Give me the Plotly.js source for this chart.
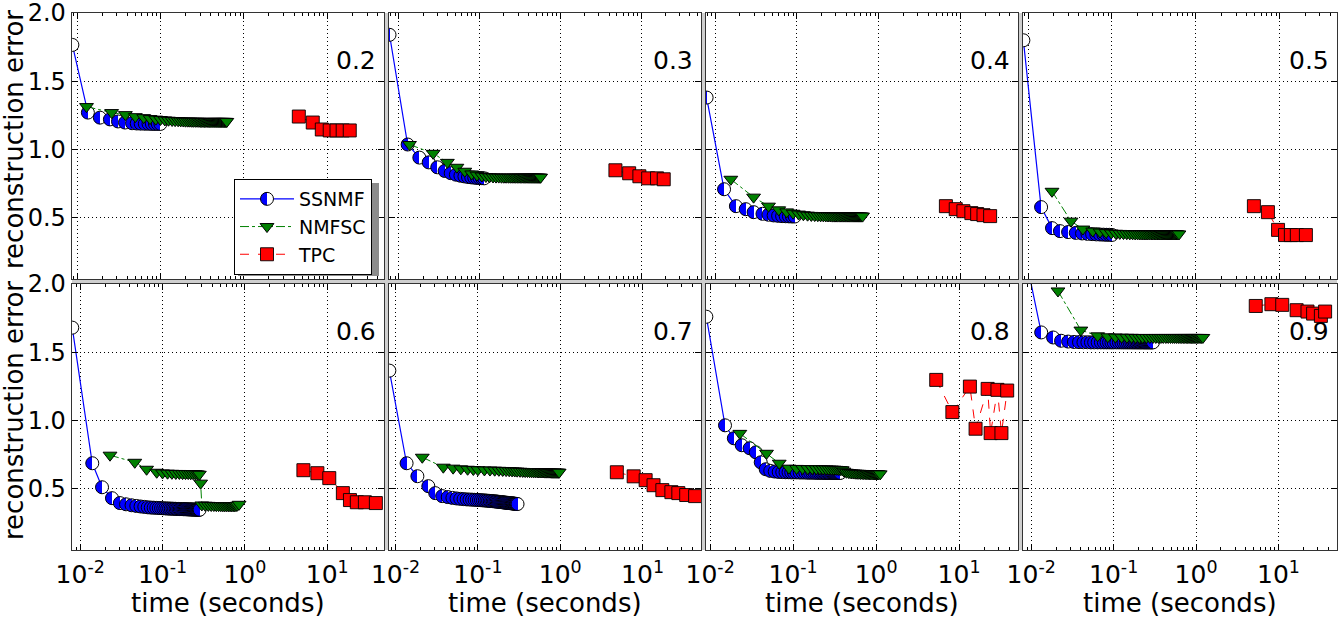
<!DOCTYPE html>
<html>
<head>
<meta charset="utf-8">
<script src="https://cdn.plot.ly/plotly-3.0.1.min.js"></script>
<style>
  html, body { margin: 0; padding: 0; background: #fff; }
  #chart { width: 1341px; height: 618px; }
</style>
</head>
<body>
<div id="chart"></div>
<script>
// --- Data (time in seconds, reconstruction error) ---
const panelLabels = ['0.2', '0.3', '0.4', '0.5', '0.6', '0.7', '0.8', '0.9'];

// 0.2
const ssnmfT02 = [0.0088, 0.0135, 0.0188, 0.0248, 0.031, 0.0376, 0.0457, 0.052, 0.058, 0.065, 0.072, 0.079, 0.086, 0.093, 0.100];
const ssnmfE02 = [1.766, 1.270, 1.233, 1.220, 1.205, 1.197, 1.192, 1.190, 1.189, 1.188, 1.188, 1.187, 1.187, 1.187, 1.187];
const nmfscT02 = [0.013, 0.026, 0.038, 0.050, 0.063, 0.075, 0.088, 0.100, 0.113, 0.125, 0.138, 0.150, 0.163, 0.175, 0.188, 0.200, 0.213, 0.225, 0.238, 0.250,
                  0.263, 0.275, 0.288, 0.300, 0.313, 0.325, 0.338, 0.350, 0.363, 0.375, 0.388, 0.400, 0.413, 0.425, 0.438, 0.450, 0.463, 0.475, 0.488, 0.500,
                  0.513, 0.525, 0.538, 0.550, 0.563, 0.575, 0.588, 0.600, 0.613, 0.625];
const nmfscE02 = [1.314, 1.270, 1.255, 1.240, 1.233, 1.226, 1.222, 1.219, 1.216, 1.214, 1.212, 1.211, 1.210, 1.209, 1.208, 1.207, 1.207, 1.207, 1.206, 1.206,
                  1.206, 1.206, 1.206, 1.205, 1.205, 1.205, 1.205, 1.205, 1.205, 1.205, 1.205, 1.205, 1.205, 1.205, 1.205, 1.205, 1.205, 1.205, 1.205, 1.205,
                  1.205, 1.205, 1.205, 1.205, 1.205, 1.205, 1.205, 1.205, 1.205, 1.205];
const tpcT02 = [4.56, 6.7, 8.6, 10.7, 12.9, 15.3, 18.6];
const tpcE02 = [1.241, 1.197, 1.146, 1.139, 1.139, 1.139, 1.139];

// 0.3
const ssnmfT03 = [0.0077, 0.0129, 0.018, 0.0235, 0.030, 0.037, 0.044, 0.051, 0.058, 0.065, 0.072, 0.079, 0.086, 0.093, 0.100, 0.107, 0.114];
const ssnmfE03 = [1.84, 1.036, 0.940, 0.905, 0.869, 0.842, 0.826, 0.815, 0.807, 0.802, 0.798, 0.795, 0.793, 0.791, 0.790, 0.789, 0.788];
const nmfscT03 = [0.0136, 0.0267, 0.040, 0.0525, 0.0657, 0.080, 0.093, 0.107, 0.120, 0.133, 0.147, 0.160, 0.173, 0.187, 0.200, 0.213, 0.227, 0.240, 0.253, 0.267,
                  0.280, 0.293, 0.307, 0.320, 0.333, 0.347, 0.360, 0.373, 0.387, 0.400, 0.413, 0.427, 0.440, 0.453, 0.467, 0.480, 0.493, 0.507, 0.520, 0.533,
                  0.547, 0.560, 0.570];
const nmfscE03 = [1.036, 0.971, 0.905, 0.869, 0.840, 0.820, 0.811, 0.805, 0.801, 0.799, 0.798, 0.797, 0.797, 0.796, 0.796, 0.796, 0.796, 0.796, 0.796, 0.796,
                  0.796, 0.796, 0.796, 0.796, 0.796, 0.796, 0.796, 0.796, 0.796, 0.796, 0.796, 0.796, 0.796, 0.796, 0.796, 0.796, 0.796, 0.796, 0.796, 0.796,
                  0.796, 0.796, 0.796];
const tpcT03 = [4.8, 7.1, 9.5, 12.2, 15.7, 19.0];
const tpcE03 = [0.847, 0.825, 0.803, 0.788, 0.788, 0.781];

// 0.4
const ssnmfT04 = [0.0079, 0.0129, 0.018, 0.0237, 0.0296, 0.038, 0.045, 0.052, 0.059, 0.066, 0.073, 0.080, 0.087, 0.094];
const ssnmfE04 = [1.380, 0.708, 0.584, 0.562, 0.540, 0.528, 0.521, 0.516, 0.513, 0.511, 0.510, 0.509, 0.508, 0.508];
const nmfscT04 = [0.0156, 0.0296, 0.045, 0.060, 0.075, 0.090, 0.105, 0.120, 0.135, 0.150, 0.165, 0.180, 0.195, 0.210, 0.225, 0.240, 0.255, 0.270, 0.285, 0.300,
                  0.315, 0.330, 0.345, 0.360, 0.375, 0.390, 0.405, 0.420, 0.435, 0.450, 0.465, 0.480, 0.495, 0.510, 0.525, 0.540, 0.555, 0.570, 0.585, 0.600,
                  0.615, 0.634];
const nmfscE04 = [0.781, 0.650, 0.584, 0.557, 0.542, 0.532, 0.526, 0.521, 0.518, 0.516, 0.515, 0.514, 0.513, 0.513, 0.512, 0.512, 0.512, 0.511, 0.511, 0.511,
                  0.511, 0.511, 0.511, 0.511, 0.511, 0.511, 0.511, 0.511, 0.511, 0.511, 0.511, 0.511, 0.511, 0.511, 0.511, 0.511, 0.511, 0.511, 0.511, 0.511,
                  0.511, 0.511];
const tpcT04 = [6.6, 8.7, 10.8, 13.5, 15.9, 19.0, 22.9];
const tpcE04 = [0.584, 0.562, 0.547, 0.533, 0.526, 0.518, 0.511];

// 0.5
const ssnmfT05 = [0.0088, 0.0143, 0.0193, 0.024, 0.030, 0.037, 0.044, 0.051, 0.058, 0.065, 0.072, 0.079, 0.086, 0.093, 0.100];
const ssnmfE05 = [1.800, 0.577, 0.423, 0.401, 0.394, 0.388, 0.384, 0.381, 0.379, 0.377, 0.376, 0.375, 0.374, 0.374, 0.373];
const nmfscT05 = [0.0193, 0.0325, 0.045, 0.059, 0.072, 0.085, 0.098, 0.111, 0.124, 0.137, 0.150, 0.163, 0.176, 0.189, 0.202, 0.215, 0.228, 0.241, 0.254, 0.267,
                  0.280, 0.293, 0.306, 0.319, 0.332, 0.345, 0.358, 0.371, 0.384, 0.397, 0.410, 0.423, 0.436, 0.449, 0.462, 0.475, 0.488, 0.501, 0.514, 0.527,
                  0.540, 0.553, 0.566, 0.579, 0.592, 0.605, 0.628];
const nmfscE05 = [0.693, 0.474, 0.416, 0.401, 0.394, 0.390, 0.387, 0.385, 0.384, 0.383, 0.382, 0.381, 0.381, 0.380, 0.380, 0.380, 0.380, 0.380, 0.380, 0.380,
                  0.380, 0.380, 0.380, 0.380, 0.380, 0.380, 0.380, 0.380, 0.380, 0.380, 0.380, 0.380, 0.380, 0.380, 0.380, 0.380, 0.380, 0.380, 0.380, 0.380,
                  0.380, 0.380, 0.380, 0.380, 0.380, 0.380, 0.380];
const tpcT05 = [4.9, 7.2, 9.5, 11.5, 13.5, 15.9, 20.4];
const tpcE05 = [0.584, 0.540, 0.410, 0.372, 0.372, 0.372, 0.372];

// 0.6
const ssnmfT06 = [0.0080, 0.014, 0.0184, 0.0243, 0.0303, 0.036, 0.042, 0.048, 0.054, 0.060, 0.066, 0.072, 0.078, 0.084, 0.090, 0.096, 0.102, 0.108, 0.114, 0.120,
                  0.126, 0.132, 0.138, 0.144, 0.150, 0.156, 0.162, 0.168, 0.174, 0.180, 0.186, 0.192, 0.198, 0.204, 0.210, 0.216, 0.222, 0.228, 0.234, 0.240,
                  0.246, 0.252, 0.258, 0.264, 0.270, 0.276, 0.282];
const ssnmfE06 = [1.680, 0.686, 0.510, 0.430, 0.394, 0.385, 0.378, 0.373, 0.369, 0.366, 0.363, 0.361, 0.360, 0.359, 0.358, 0.357, 0.356, 0.355, 0.354, 0.354,
                  0.353, 0.353, 0.352, 0.352, 0.351, 0.351, 0.350, 0.350, 0.350, 0.349, 0.349, 0.349, 0.348, 0.348, 0.348, 0.347, 0.347, 0.347, 0.347, 0.346,
                  0.346, 0.346, 0.346, 0.345, 0.345, 0.345, 0.345];
const nmfscT06 = [0.023, 0.046, 0.064, 0.085, 0.100, 0.115, 0.130, 0.145, 0.160, 0.175, 0.190, 0.205, 0.220, 0.235, 0.250, 0.265, 0.280, 0.290,
                  0.300, 0.330, 0.360, 0.390, 0.420, 0.450, 0.480, 0.510, 0.540, 0.570, 0.600, 0.630, 0.660, 0.690, 0.720, 0.750, 0.780, 0.810, 0.850];
const nmfscE06 = [0.745, 0.693, 0.642, 0.620, 0.615, 0.613, 0.612, 0.611, 0.611, 0.610, 0.610, 0.610, 0.609, 0.609, 0.609, 0.608, 0.605, 0.540,
                  0.380, 0.378, 0.377, 0.376, 0.376, 0.375, 0.375, 0.375, 0.374, 0.374, 0.374, 0.374, 0.374, 0.374, 0.374, 0.375, 0.375, 0.378, 0.385];
const tpcT06 = [5.14, 7.6, 10.6, 15.5, 18.9, 22.9, 28.7, 39.0];
const tpcE06 = [0.635, 0.613, 0.577, 0.467, 0.416, 0.400, 0.400, 0.394];

// 0.7
const ssnmfT07 = [0.0084, 0.0136, 0.0184, 0.025, 0.0303, 0.0368, 0.043, 0.049, 0.055, 0.061, 0.067, 0.073, 0.079, 0.085, 0.091, 0.097, 0.103, 0.109, 0.115, 0.121,
                  0.127, 0.133, 0.139, 0.145, 0.151, 0.157, 0.163, 0.169, 0.175, 0.181, 0.187, 0.193, 0.199, 0.205, 0.211, 0.217, 0.223, 0.229, 0.235, 0.241,
                  0.247, 0.253, 0.259, 0.265, 0.271, 0.277, 0.283, 0.289, 0.295, 0.303];
const ssnmfE07 = [1.365, 0.686, 0.591, 0.518, 0.467, 0.445, 0.438, 0.432, 0.428, 0.425, 0.423, 0.421, 0.420, 0.419, 0.418, 0.417, 0.416, 0.415, 0.414, 0.413,
                  0.412, 0.411, 0.410, 0.409, 0.408, 0.407, 0.406, 0.405, 0.404, 0.403, 0.402, 0.401, 0.400, 0.399, 0.398, 0.397, 0.396, 0.396, 0.395, 0.394,
                  0.393, 0.393, 0.392, 0.391, 0.390, 0.390, 0.389, 0.388, 0.388, 0.387];
const nmfscT07 = [0.0211, 0.038, 0.050, 0.062, 0.075, 0.088, 0.100, 0.120, 0.140, 0.160, 0.180, 0.200, 0.220, 0.240, 0.260, 0.280, 0.300, 0.325, 0.350, 0.375,
                  0.400, 0.425, 0.450, 0.475, 0.500, 0.525, 0.550, 0.575, 0.600, 0.625, 0.650, 0.675, 0.700, 0.725, 0.750, 0.775, 0.800, 0.825, 0.850, 0.875,
                  0.900, 0.925, 0.950, 0.970];
const nmfscE07 = [0.730, 0.657, 0.650, 0.645, 0.642, 0.640, 0.638, 0.637, 0.636, 0.635, 0.634, 0.633, 0.632, 0.631, 0.630, 0.629, 0.628, 0.627, 0.626, 0.625,
                  0.625, 0.624, 0.624, 0.623, 0.623, 0.623, 0.622, 0.622, 0.622, 0.622, 0.621, 0.621, 0.621, 0.621, 0.621, 0.620, 0.620, 0.620, 0.620, 0.620,
                  0.620, 0.620, 0.620, 0.620];
const tpcT07 = [4.87, 7.8, 10.9, 13.6, 17.4, 22.4, 27.2, 33.9, 43.5];
const tpcE07 = [0.620, 0.590, 0.562, 0.525, 0.489, 0.474, 0.467, 0.453, 0.445];

// 0.8
const ssnmfT08 = [0.0090, 0.0151, 0.0193, 0.024, 0.0299, 0.0355, 0.0407, 0.0467, 0.053, 0.060, 0.067, 0.074, 0.081, 0.088, 0.095, 0.102, 0.110, 0.120, 0.130, 0.140,
                  0.150, 0.160, 0.170, 0.180, 0.190, 0.200, 0.210, 0.220, 0.230, 0.240, 0.250, 0.260, 0.270, 0.280, 0.290, 0.300, 0.310, 0.320, 0.330, 0.340,
                  0.350, 0.360, 0.370];
const ssnmfE08 = [1.760, 0.964, 0.869, 0.818, 0.796, 0.766, 0.693, 0.642, 0.630, 0.625, 0.622, 0.621, 0.620, 0.620, 0.619, 0.619, 0.619, 0.618, 0.618, 0.618,
                  0.617, 0.617, 0.617, 0.617, 0.616, 0.616, 0.616, 0.616, 0.616, 0.615, 0.615, 0.615, 0.615, 0.615, 0.615, 0.615, 0.615, 0.615, 0.615, 0.615,
                  0.615, 0.615, 0.615];
const nmfscT08 = [0.0228, 0.0478, 0.068, 0.089, 0.110, 0.130, 0.150, 0.170, 0.190, 0.210, 0.230, 0.250, 0.270, 0.290, 0.310, 0.330, 0.350, 0.370, 0.390, 0.410,
                  0.440, 0.470, 0.500, 0.530, 0.560, 0.590, 0.620, 0.650, 0.680, 0.710, 0.740, 0.770, 0.800, 0.830, 0.860, 0.890, 0.920, 0.950, 0.980, 1.010,
                  1.040, 1.070, 1.120];
const nmfscE08 = [0.905, 0.759, 0.686, 0.650, 0.648, 0.647, 0.646, 0.646, 0.645, 0.645, 0.644, 0.644, 0.643, 0.643, 0.642, 0.641, 0.640, 0.639, 0.638, 0.628,
                  0.620, 0.617, 0.615, 0.614, 0.613, 0.612, 0.612, 0.611, 0.611, 0.610, 0.610, 0.610, 0.609, 0.609, 0.609, 0.609, 0.608, 0.608, 0.608, 0.608,
                  0.608, 0.608, 0.608];
const tpcT08 = [5.3, 8.3, 13.5, 15.8, 22.1, 24.0, 29.0, 32.4, 38.0];
const tpcE08 = [1.297, 1.061, 1.248, 0.939, 1.231, 0.907, 1.224, 0.907, 1.219];

// 0.9
const ssnmfT09 = [0.0080, 0.0132, 0.0184, 0.023, 0.028, 0.033, 0.038, 0.043, 0.048, 0.053, 0.058, 0.064, 0.070, 0.076, 0.082, 0.088, 0.094, 0.100, 0.108, 0.116,
                  0.124, 0.132, 0.140, 0.148, 0.156, 0.164, 0.172, 0.180, 0.188, 0.196, 0.204, 0.212, 0.220, 0.228, 0.236, 0.244, 0.252, 0.260, 0.268, 0.276,
                  0.284, 0.292, 0.300];
const ssnmfE09 = [2.280, 1.645, 1.608, 1.584, 1.578, 1.575, 1.574, 1.573, 1.573, 1.572, 1.572, 1.572, 1.572, 1.572, 1.572, 1.572, 1.572, 1.572, 1.572, 1.572,
                  1.572, 1.572, 1.572, 1.572, 1.572, 1.572, 1.572, 1.572, 1.572, 1.572, 1.572, 1.572, 1.572, 1.572, 1.572, 1.572, 1.572, 1.572, 1.572, 1.572,
                  1.572, 1.572, 1.572];
const nmfscT09 = [0.0211, 0.040, 0.064, 0.085, 0.105, 0.125, 0.145, 0.165, 0.185, 0.205, 0.225, 0.250, 0.275, 0.300, 0.325, 0.350, 0.375, 0.400, 0.430, 0.460,
                  0.490, 0.520, 0.550, 0.580, 0.610, 0.640, 0.670, 0.700, 0.730, 0.760, 0.790, 0.820, 0.850, 0.880, 0.910, 0.940, 0.970, 1.000, 1.040, 1.080,
                  1.120, 1.160, 1.210];
const nmfscE09 = [1.949, 1.662, 1.620, 1.613, 1.611, 1.610, 1.609, 1.609, 1.608, 1.608, 1.608, 1.608, 1.608, 1.608, 1.608, 1.608, 1.608, 1.608, 1.608, 1.608,
                  1.608, 1.608, 1.608, 1.608, 1.608, 1.608, 1.608, 1.608, 1.608, 1.608, 1.608, 1.608, 1.608, 1.608, 1.608, 1.608, 1.608, 1.608, 1.608, 1.608,
                  1.608, 1.608, 1.608];
const tpcT09 = [5.3, 8.2, 11.1, 16.6, 22.5, 26.3, 32.7, 36.8];
const tpcE09 = [1.839, 1.852, 1.847, 1.808, 1.798, 1.783, 1.766, 1.798];

// tick labels
const xTickVals = [0.01, 0.1, 1, 10];
const xTickText = ['10<sup>-2</sup>', '10<sup>-1</sup>', '10<sup>0</sup>', '10<sup>1</sup>'];
const xMinorVals = [0.002, 0.003, 0.004, 0.005, 0.006, 0.007, 0.008, 0.009,
                    0.02, 0.03, 0.04, 0.05, 0.06, 0.07, 0.08, 0.09,
                    0.2, 0.3, 0.4, 0.5, 0.6, 0.7, 0.8, 0.9,
                    2, 3, 4, 5, 6, 7, 8, 9, 20, 30, 40, 50, 60, 70, 80, 90];
const yTickVals = [0.5, 1.0, 1.5, 2.0];
const yTickText = ['0.5', '1.0', '1.5', '2.0'];

const ssnmfT = [ssnmfT02, ssnmfT03, ssnmfT04, ssnmfT05, ssnmfT06, ssnmfT07, ssnmfT08, ssnmfT09];
const ssnmfE = [ssnmfE02, ssnmfE03, ssnmfE04, ssnmfE05, ssnmfE06, ssnmfE07, ssnmfE08, ssnmfE09];
const nmfscT = [nmfscT02, nmfscT03, nmfscT04, nmfscT05, nmfscT06, nmfscT07, nmfscT08, nmfscT09];
const nmfscE = [nmfscE02, nmfscE03, nmfscE04, nmfscE05, nmfscE06, nmfscE07, nmfscE08, nmfscE09];
const tpcT = [tpcT02, tpcT03, tpcT04, tpcT05, tpcT06, tpcT07, tpcT08, tpcT09];
const tpcE = [tpcE02, tpcE03, tpcE04, tpcE05, tpcE06, tpcE07, tpcE08, tpcE09];

// --- Geometry (pixels) ---
const W = 1341, H = 618;
const colLeft = [72, 389, 706, 1023];
const colRight = [384, 701, 1018, 1337];
const rowTop = [13, 284];
const rowBottom = [279, 550];
// log10 x ranges per panel
const xRanges = [[-2.06, 1.68], [-2.12, 1.74], [-2.11, 1.70], [-2.06, 1.68],
                 [-2.10, 1.69], [-2.08, 1.71], [-2.05, 1.71], [-2.10, 1.71]];

const FONT = 'DejaVu Sans, Arial, sans-serif';
const traces = [];
const layout = {
    width: W, height: H,
    margin: { l: 0, r: 0, t: 0, b: 0 },
    paper_bgcolor: '#fff', plot_bgcolor: '#fff',
    font: { family: FONT, color: '#000' },
    showlegend: true,
    legend: {
        x: 234 / W, y: 1 - 179 / H, xanchor: 'left', yanchor: 'top',
        bgcolor: '#fff', bordercolor: '#000', borderwidth: 1,
        font: { family: FONT, size: 19, color: '#000' },
        itemwidth: 54
    },
    annotations: [],
    shapes: []
};

panelLabels.forEach((lbl, i) => {
    const col = i % 4, row = Math.floor(i / 4);
    const sfx = i ? String(i + 1) : '';

    traces.push({
        x: ssnmfT[i], y: ssnmfE[i], xaxis: 'x' + sfx, yaxis: 'y' + sfx,
        type: 'scatter', mode: 'lines+markers', name: 'SSNMF', showlegend: i === 0,
        line: { color: '#0000ff', width: 1.2 },
        marker: { symbol: 'circle', size: 13, color: '#0000ff',
                  gradient: { type: 'horizontal', color: '#ffffff' },
                  line: { color: '#000', width: 1 } }
    });
    traces.push({
        x: nmfscT[i], y: nmfscE[i], xaxis: 'x' + sfx, yaxis: 'y' + sfx,
        type: 'scatter', mode: 'lines+markers', name: 'NMFSC', showlegend: i === 0,
        line: { color: '#008000', width: 1, dash: 'dashdot' },
        marker: { symbol: 'triangle-down', size: 12, color: '#008000',
                  line: { color: '#000', width: 1 } }
    });
    traces.push({
        x: tpcT[i], y: tpcE[i], xaxis: 'x' + sfx, yaxis: 'y' + sfx,
        type: 'scatter', mode: 'lines+markers', name: 'TPC', showlegend: i === 0,
        line: { color: '#ff0000', width: 1, dash: 'dash' },
        marker: { symbol: 'square', size: 13, color: '#ff0000',
                  line: { color: '#000', width: 0.9 } }
    });

    const common = {
        ticks: 'inside', ticklen: 6, tickwidth: 1, tickcolor: '#000',
        showgrid: true, gridcolor: '#000', gridwidth: 1, griddash: '1px,3px',
        showline: true, linecolor: '#333', linewidth: 1.3, mirror: 'allticks',
        zeroline: false, ticklabeloverflow: 'allow'
    };

    layout['xaxis' + sfx] = Object.assign({}, common, {
        type: 'log', anchor: 'y' + sfx,
        domain: [colLeft[col] / W, colRight[col] / W],
        range: xRanges[i],
        tickmode: 'array', tickvals: xTickVals, ticktext: xTickText,
        showticklabels: row === 1, ticklabelstandoff: 2,
        tickfont: { family: FONT, size: 25, color: '#000' },
        minor: { tickmode: 'array', tickvals: xMinorVals, ticks: 'inside', ticklen: 3,
                 tickcolor: '#000', showgrid: false }
    });
    layout['yaxis' + sfx] = Object.assign({}, common, {
        anchor: 'x' + sfx,
        domain: [1 - rowBottom[row] / H, 1 - rowTop[row] / H],
        range: [0.05, 2.0],
        tickmode: 'array', tickvals: yTickVals, ticktext: yTickText,
        showticklabels: col === 0, ticklabelstandoff: 0,
        tickfont: { family: FONT, size: 24, color: '#000' }
    });

    // panel label (sparsity level)
    layout.annotations.push({
        xref: 'paper', yref: 'paper', x: (colRight[col] - 6) / W, y: 1 - (rowTop[row] + 48) / H,
        xanchor: 'right', yanchor: 'middle', showarrow: false, text: lbl,
        font: { family: FONT, size: 25, color: '#000' }
    });
    if (row === 1) {
        layout.annotations.push({
            xref: 'paper', yref: 'paper', x: (colLeft[col] + colRight[col]) / 2 / W, y: 1 - 603 / H,
            xanchor: 'center', yanchor: 'middle', showarrow: false, text: 'time (seconds)',
            font: { family: FONT, size: 26, color: '#000' }
        });
    }
});

// y axis titles
[140, 411].forEach(yc => {
    layout.annotations.push({
        xref: 'paper', yref: 'paper', x: 14 / W, y: 1 - yc / H,
        xanchor: 'center', yanchor: 'middle', showarrow: false, textangle: -90,
        text: 'reconstruction error', font: { family: FONT, size: 26, color: '#000' }
    });
});

// gray seams between panels
[[384, 389], [701, 706], [1018, 1023]].forEach(([a, b]) => {
    layout.shapes.push({ type: 'rect', xref: 'paper', yref: 'paper', layer: 'below',
        x0: a / W, x1: b / W, y0: 1 - 550 / H, y1: 1 - 13 / H,
        fillcolor: '#cfcfcf', line: { width: 0 } });
});
layout.shapes.push({ type: 'rect', xref: 'paper', yref: 'paper', layer: 'below',
    x0: 72 / W, x1: 1337 / W, y0: 1 - 284 / H, y1: 1 - 279 / H,
    fillcolor: '#cfcfcf', line: { width: 0 } });

// legend shadow
layout.shapes.push({ type: 'rect', xref: 'paper', yref: 'paper', layer: 'above',
    x0: 238 / W, x1: 379 / W, y0: 1 - 276 / H, y1: 1 - 183 / H,
    fillcolor: '#8c8c8c', line: { width: 0 } });

const gd = document.getElementById('chart');
Plotly.newPlot(gd, traces, layout, { staticPlot: true, displayModeBar: false }).then(() => {
    // make the horizontal marker gradient a sharp half-filled circle
    gd.querySelectorAll('linearGradient stop').forEach(s => s.setAttribute('offset', '50%'));
});
</script>
</body>
</html>
